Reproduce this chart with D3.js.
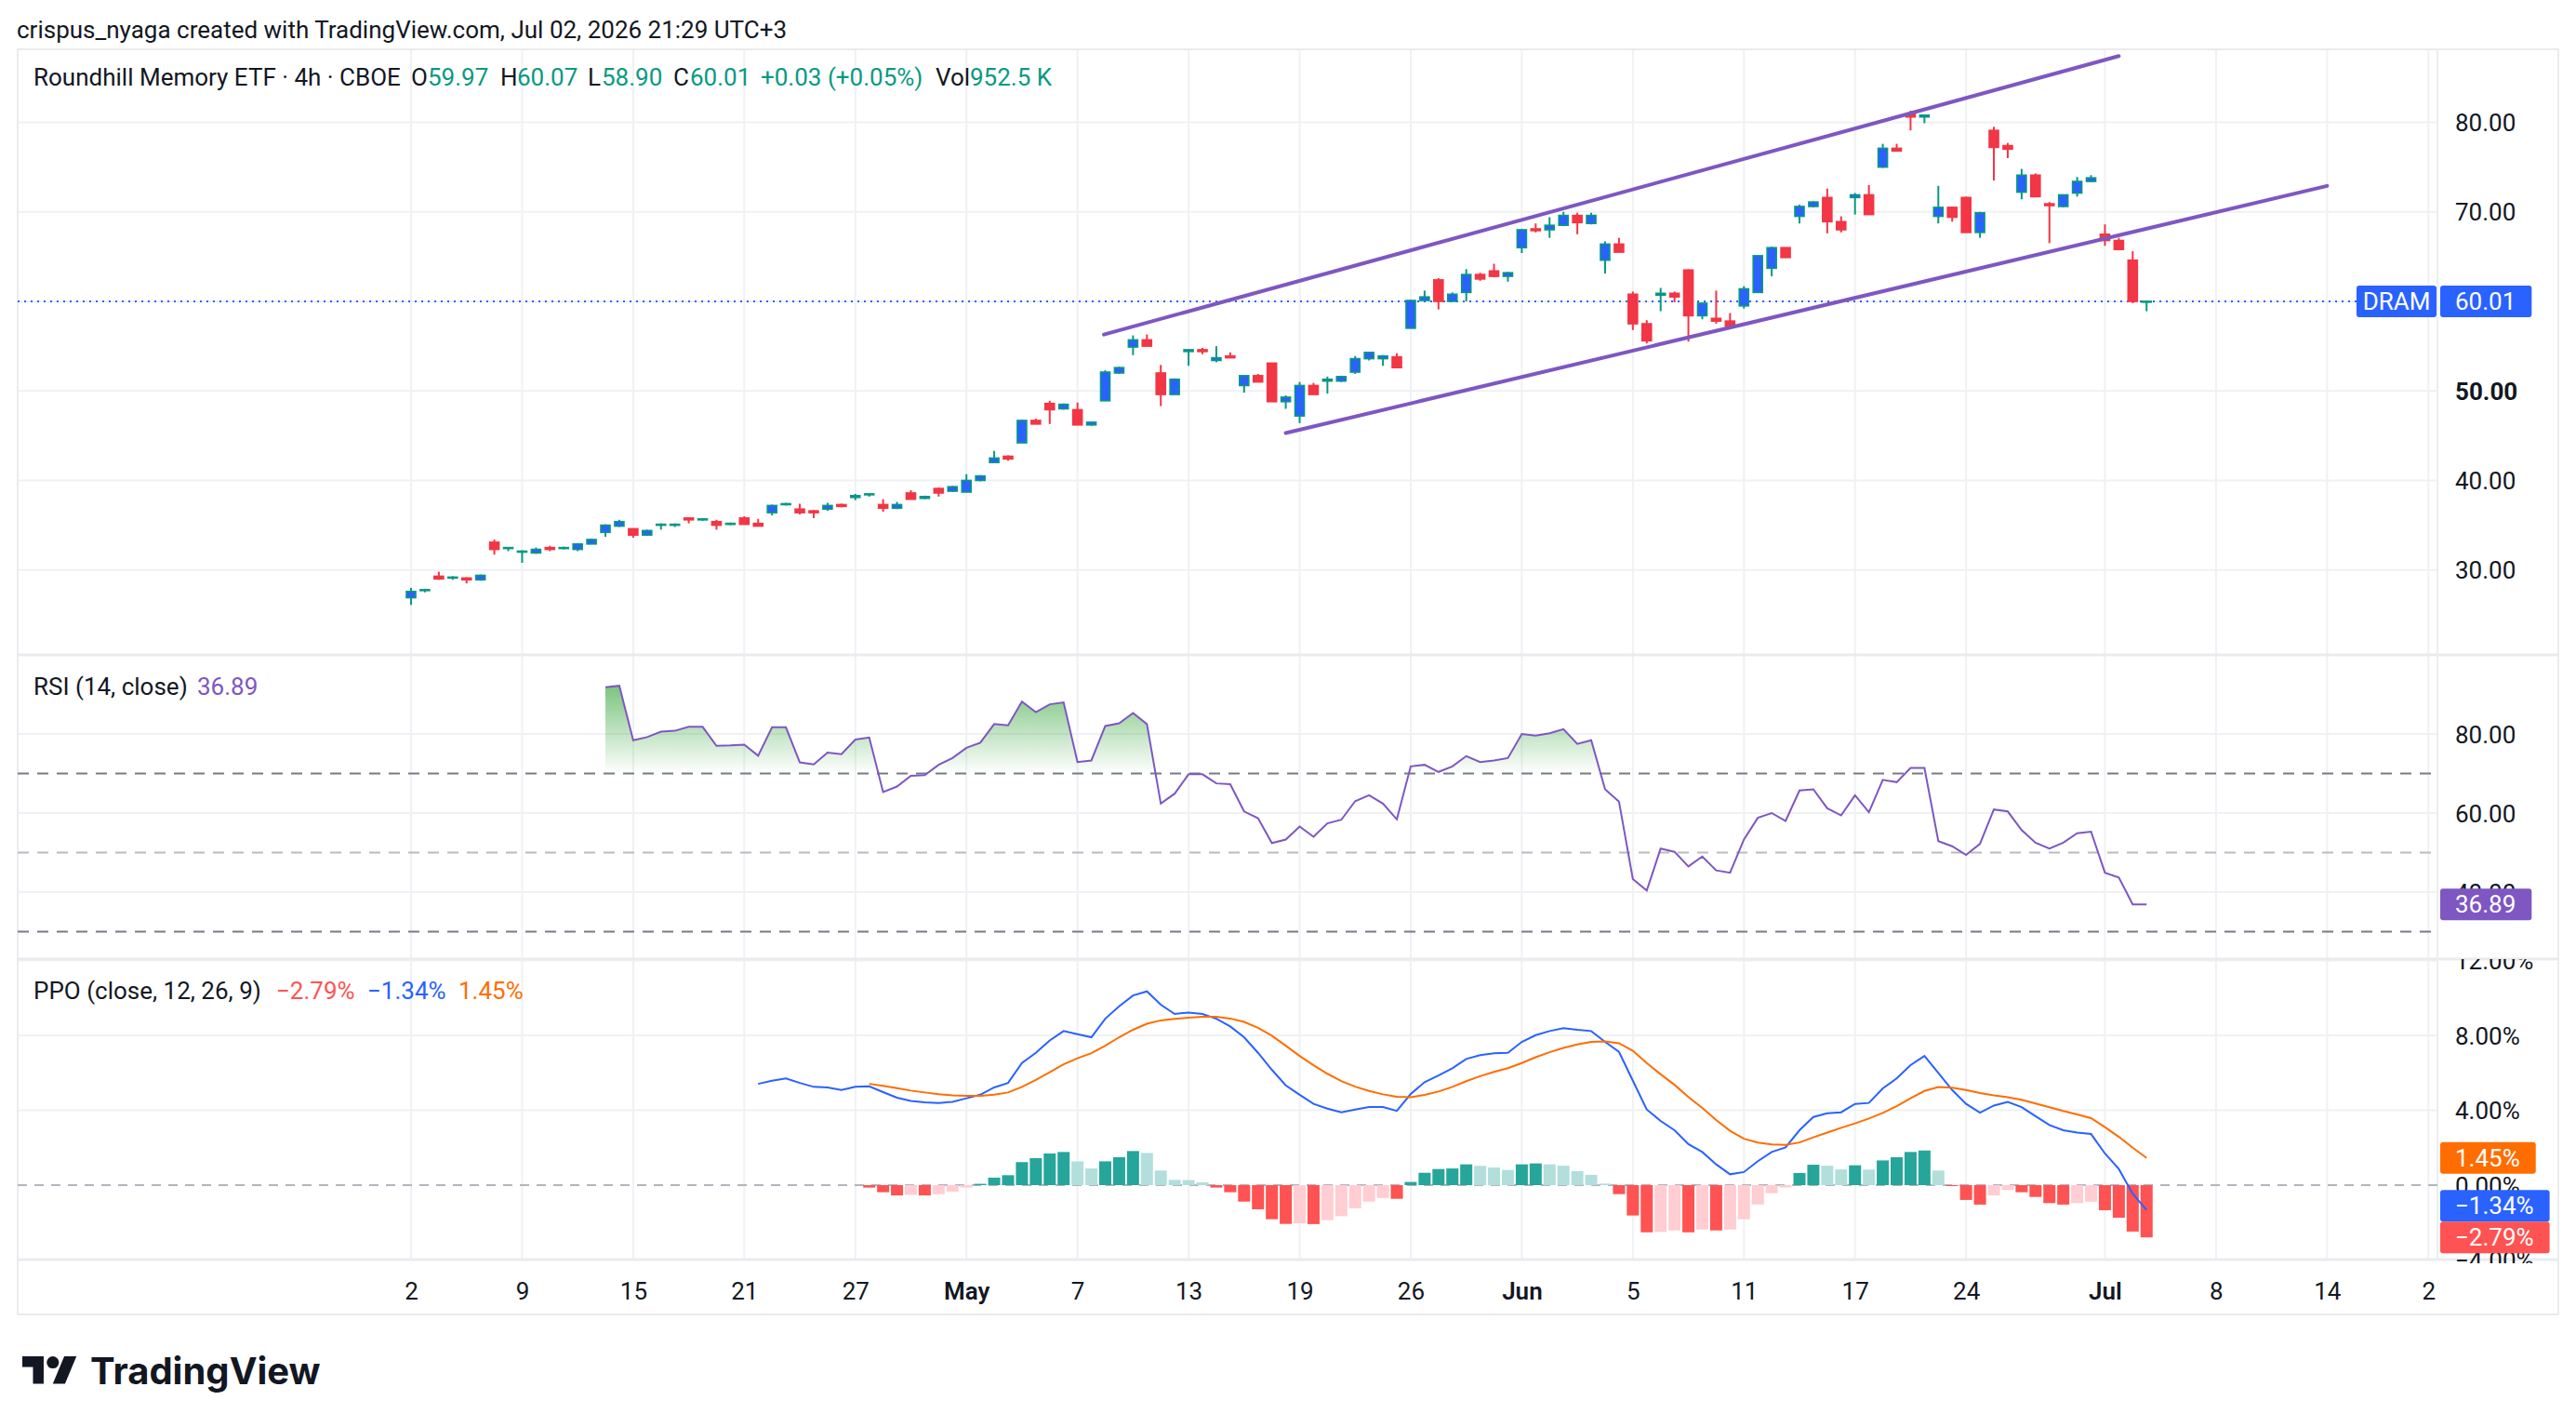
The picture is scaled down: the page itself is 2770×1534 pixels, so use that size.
<!DOCTYPE html>
<html>
<head>
<meta charset="utf-8">
<script src="https://cdn.jsdelivr.net/npm/d3@7"></script>
<style>
  body { margin: 0; background: #fff; }
  svg text { font-family: Roboto, "Noto Sans", sans-serif; }
</style>
</head>
<body>
<script>
// ---- data (4h bars, Apr 2 -> Jul 2) ----
const opens = [26.9,27.7,29.3,29.1,29.1,28.9,33.1,32.4,32.0,31.9,
  32.5,32.4,32.3,32.9,34.2,34.9,34.6,33.9,35.0,35.0,
  35.8,35.6,35.4,35.1,35.8,35.2,36.4,37.3,36.8,36.6,
  36.8,37.3,38.1,38.4,37.3,36.9,38.6,38.0,39.1,38.8,
  38.7,40.0,42.0,42.7,44.2,46.7,48.6,48.0,47.9,46.2,
  48.9,52.0,54.9,55.7,52.0,49.6,54.4,54.6,53.4,53.9,
  50.6,51.7,53.1,48.8,47.2,50.6,51.1,51.1,52.1,53.6,
  53.6,53.8,57.0,60.1,62.4,60.0,61.0,63.0,63.4,62.8,
  66.0,68.1,68.0,68.5,69.6,68.7,64.6,66.4,60.8,57.5,
  60.7,60.9,63.5,58.4,58.1,57.8,59.5,61.0,63.7,66.0,
  69.5,70.6,71.6,68.9,71.6,71.9,75.0,77.1,80.9,80.6,
  69.5,70.5,71.6,67.7,79.1,77.4,72.2,74.1,70.9,70.6,
  72.1,73.4,67.5,66.8,64.6,59.97]
const highs = [28.0,27.9,29.8,29.3,29.2,29.5,33.4,32.5,32.2,32.5,
  32.7,32.6,33.0,33.5,35.1,35.6,34.6,34.5,35.2,35.2,
  35.9,35.8,35.6,35.3,36.0,35.7,37.3,37.5,37.4,36.7,
  37.5,37.4,38.5,38.6,37.9,37.6,38.9,38.3,39.2,39.4,
  40.7,40.6,43.3,42.8,46.8,46.9,48.9,48.6,48.7,46.5,
  52.3,52.7,56.2,56.3,52.9,51.4,54.6,54.8,55.0,54.3,
  51.7,51.9,53.1,49.5,51.0,50.9,51.6,51.7,53.9,54.3,
  54.0,54.2,60.2,61.2,62.6,61.0,63.6,63.2,64.2,63.3,
  68.1,68.7,69.4,70.0,69.9,69.9,66.7,67.1,61.1,57.9,
  61.5,61.1,63.6,59.8,61.2,58.7,61.7,65.1,66.1,66.0,
  70.8,71.2,72.6,69.5,72.1,73.0,77.6,77.6,81.3,80.8,
  72.9,70.6,71.7,70.0,79.5,77.7,74.8,74.3,71.1,71.9,
  73.9,74.1,68.6,67.1,65.6,60.07]
const lows = [26.1,27.5,28.9,28.9,28.5,28.8,31.7,32.1,30.8,31.8,
  32.1,32.3,32.1,32.9,33.7,34.8,33.6,33.8,34.5,34.8,
  35.2,35.5,34.5,35.0,35.1,34.9,36.1,37.2,36.2,35.8,
  36.6,37.0,37.8,38.2,36.5,36.8,37.9,37.9,38.2,38.7,
  38.7,39.9,42.0,42.2,44.2,46.3,46.3,47.9,46.2,46.1,
  48.9,51.9,54.0,55.0,48.3,49.6,52.8,54.1,53.2,53.7,
  49.8,51.0,48.8,48.0,46.4,49.6,49.7,51.0,51.9,53.4,
  52.8,52.6,57.0,60.0,59.1,60.0,60.0,62.3,62.7,62.2,
  65.4,67.7,67.1,68.4,67.5,68.6,63.1,65.5,56.8,55.3,
  58.9,59.9,55.5,58.0,57.5,57.2,59.2,61.0,62.8,64.9,
  68.7,70.5,67.6,67.7,69.7,69.7,74.9,76.8,79.1,79.9,
  68.7,68.9,67.7,67.1,73.5,76.0,71.4,71.7,66.5,70.5,
  71.7,73.3,66.2,65.8,59.8,58.90]
const closes = [27.6,27.8,29.0,29.2,28.9,29.4,32.3,32.5,32.1,32.3,
  32.3,32.5,32.9,33.4,35.0,35.4,33.9,34.4,35.1,35.1,
  35.6,35.7,35.0,35.2,35.1,34.9,37.2,37.4,36.4,36.4,
  37.2,37.1,38.3,38.5,36.9,37.3,37.9,38.2,38.6,39.3,
  40.0,40.5,42.5,42.4,46.7,46.3,47.9,48.5,46.2,46.5,
  52.1,52.6,55.7,55.0,49.6,51.3,54.6,54.4,53.7,53.7,
  51.7,51.0,48.8,49.3,50.6,49.6,51.3,51.6,53.6,54.3,
  53.9,52.6,60.1,60.5,60.0,60.8,63.0,62.5,62.8,63.2,
  68.0,67.9,68.5,69.6,68.8,69.6,66.4,65.5,57.5,55.6,
  60.9,60.5,58.4,59.8,57.8,57.2,61.4,65.1,66.0,64.9,
  70.6,71.1,68.9,68.0,71.9,69.7,77.1,76.8,80.6,80.8,
  70.5,69.4,67.7,69.9,77.2,77.0,74.1,71.7,70.7,71.9,
  73.4,73.8,66.8,65.8,60.0,60.01]

const rsi = [null,null,null,null,null,null,null,null,null,null,null,null,null,null,
  91.8,92.2,78.4,79.2,80.6,80.8,81.8,81.8,77.0,77.1,
  77.3,74.5,81.7,81.7,72.8,72.3,75.3,74.9,78.6,79.1,
  65.3,66.7,69.4,69.6,72.2,73.9,76.5,77.8,82.5,82.2,
  88.2,85.5,87.5,88.0,72.9,73.3,82.0,82.7,85.3,82.5,
  62.4,64.9,69.8,69.8,67.5,67.3,60.4,58.7,52.4,53.3,
  56.6,54.0,57.4,58.3,63.0,64.5,62.4,58.4,71.8,72.2,
  70.4,71.8,74.4,72.9,73.3,73.9,80.0,79.6,80.2,81.2,
  77.5,78.4,66.0,62.9,43.3,40.4,51.0,50.2,46.5,49.0,
  45.5,44.9,53.3,58.8,60.0,58.0,65.7,66.0,61.2,59.4,
  64.5,60.2,68.4,67.8,71.4,71.4,52.9,51.6,49.4,52.2,
  60.9,60.4,55.7,52.5,51.0,52.5,54.9,55.3,44.9,43.7,
  36.9,36.89]

const ppo = [null,null,null,null,null,null,null,null,null,null,
  null,null,null,null,null,null,null,null,null,null,null,null,null,null,null,
  5.41,5.58,5.70,5.46,5.25,5.22,5.08,5.25,5.28,4.97,
  4.67,4.50,4.42,4.39,4.45,4.64,4.83,5.22,5.46,6.52,
  7.07,7.73,8.23,8.06,7.90,8.89,9.55,10.13,10.35,9.64,
  9.14,9.22,9.14,8.89,8.48,7.90,7.07,6.16,5.33,4.83,
  4.34,4.09,3.89,4.04,4.17,4.17,3.97,4.87,5.50,5.86,
  6.24,6.74,6.94,7.04,7.07,7.65,8.01,8.23,8.39,8.30,
  8.23,7.65,7.12,5.58,4.04,3.43,2.93,2.19,1.77,1.11,
  0.58,0.70,1.28,1.77,2.02,2.93,3.64,3.84,3.89,4.34,
  4.39,5.17,5.70,6.41,6.90,5.99,5.08,4.34,3.87,4.25,
  4.45,4.17,3.68,3.21,2.93,2.81,2.73,1.69,0.86,-0.46,
  -1.34]

const signal = [null,null,null,null,null,null,null,null,null,null,
  null,null,null,null,null,null,null,null,null,null,
  null,null,null,null,null,null,null,null,null,null,null,null,null,
  5.41,5.30,5.18,5.05,4.95,4.86,4.80,4.77,4.77,4.83,
  4.95,5.25,5.62,6.03,6.45,6.78,7.05,7.45,7.90,8.30,
  8.62,8.80,8.88,8.95,8.99,8.99,8.90,8.72,8.40,7.98,
  7.45,6.90,6.40,5.95,5.56,5.26,5.03,4.85,4.72,4.70,
  4.82,5.00,5.25,5.55,5.82,6.05,6.25,6.52,6.83,7.10,
  7.33,7.52,7.65,7.68,7.58,7.18,6.52,5.92,5.36,4.71,
  4.12,3.48,2.90,2.48,2.27,2.17,2.15,2.28,2.55,2.81,
  3.06,3.30,3.56,3.86,4.22,4.64,5.03,5.24,5.20,5.08,
  4.92,4.80,4.70,4.56,4.36,4.16,3.96,3.78,3.58,3.10,
  2.58,2.00,1.45]

const hist = [null,null,null,null,null,null,null,null,null,null,
  null,null,null,null,null,null,null,null,null,null,
  null,null,null,null,null,null,null,null,null,null,null,null,null,
  -0.13,-0.38,-0.55,-0.52,-0.55,-0.48,-0.35,-0.13,0.07,0.40,
  0.53,1.23,1.44,1.69,1.77,1.27,0.89,1.27,1.49,1.82,
  1.72,0.78,0.28,0.27,0.15,-0.13,-0.38,-0.88,-1.29,-1.82,
  -2.07,-2.04,-2.08,-1.87,-1.66,-1.24,-0.88,-0.69,-0.73,0.17,
  0.66,0.86,0.89,1.11,1.03,0.94,0.81,1.11,1.16,1.11,
  1.04,0.75,0.55,0.08,-0.48,-1.62,-2.52,-2.50,-2.42,-2.52,
  -2.37,-2.42,-2.37,-1.82,-1.03,-0.43,-0.13,0.65,1.09,1.04,
  0.84,1.06,0.83,1.32,1.49,1.77,1.85,0.78,-0.05,-0.79,
  -1.04,-0.55,-0.26,-0.38,-0.63,-0.96,-1.04,-0.96,-0.88,-1.34,
  -1.74,-2.48,-2.79]

// trend lines drawn on the chart: [bar index, price]
const upperLine = [[49.9, 56.3], [123.0, 87.4]]
const lowerLine = [[63.0, 45.3], [138.0, 72.9]]

// axis ticks
const tickLabels = ["2","9","15","21","27","May","7","13","19","26","Jun","5","11","17","24","Jul","8","14","2"]
const tickBars = [0,8,16,24,32,40,48,56,64,72,80,88,96,104,112,122,130,138,145.3]
const priceTicks = [30,40,50,60,70,80]
const rsiTicks = [40,60,80]
const ppoTicks = [-4,0,4,8,12]

// ---- layout ----
const W = 2770, H = 1534
const plotL = 19, plotR = 2621, frameR = 2751
const mainTop = 53, mainBot = 704, rsiBot = 1031, ppoBot = 1354, axisBot = 1413
const step = 14.93
const fs = 26
const ink = "#131722", up = "#089981", upFill = "#2962FF", down = "#F23645"

const svg = d3.select("body").append("svg")
    .attr("width", W)
    .attr("height", H)

svg.append("rect").attr("width", W).attr("height", H).attr("fill", "#fff")

const bars = d3.range(opens.length)
const x = d3.scaleLinear().domain([0, 125]).range([442, 442 + 125 * step])
const yP = d3.scaleLinear().domain([30, 80]).range([612.7, 131.5])
const yR = d3.scaleLinear().domain([40, 80]).range([959, 789])
const yM = d3.scaleLinear().domain([0, 8]).range([1274, 1113])

const defs = svg.append("defs")
function clip(id, x0, y0, w, h) {
    defs.append("clipPath").attr("id", id)
        .append("rect").attr("x", x0).attr("y", y0).attr("width", w).attr("height", h)
}
clip("cMain", plotL, mainTop, plotR - plotL, mainBot - mainTop)
clip("cRsi", plotL, mainBot, plotR - plotL, rsiBot - mainBot)
clip("cPpo", plotL, rsiBot, plotR - plotL, ppoBot - rsiBot)
clip("aMain", plotR, mainTop, 140, mainBot - mainTop)
clip("aRsi", plotR, mainBot, 140, rsiBot - mainBot)
clip("aPpo", plotR, rsiBot, 140, ppoBot - rsiBot + 4)
clip("cOb", plotL, mainBot, plotR - plotL, yR(70) - mainBot)

// ---- grid ----
const grid = svg.append("g").attr("stroke", "#f0f1f4").attr("stroke-width", 2)
grid.selectAll(".vg").data(tickBars).join("line")
    .attr("x1", d => x(d)).attr("x2", d => x(d))
    .attr("y1", mainTop).attr("y2", ppoBot)
const hGrid = [[yP, priceTicks, "cMain"], [yR, rsiTicks, "cRsi"], [yM, ppoTicks.filter(d => d != 0), "cPpo"]]
hGrid.forEach(([s, ticks, c]) => {
    grid.append("g").attr("clip-path", `url(#${c})`)
        .selectAll("line").data(ticks).join("line")
        .attr("x1", plotL).attr("x2", plotR)
        .attr("y1", d => s(d)).attr("y2", d => s(d))
})

// frame and pane separators
svg.append("rect")
    .attr("x", plotL).attr("y", mainTop)
    .attr("width", frameR - plotL).attr("height", axisBot - mainTop)
    .attr("fill", "none").attr("stroke", "#e9ebee").attr("stroke-width", 2)
svg.append("g").selectAll("line").data([mainBot, rsiBot, ppoBot]).join("line")
    .attr("x1", plotL).attr("x2", frameR)
    .attr("y1", d => d).attr("y2", d => d)
    .attr("stroke", "#e9ebee").attr("stroke-width", 3)
svg.append("line")
    .attr("x1", plotR).attr("x2", plotR).attr("y1", mainTop).attr("y2", ppoBot)
    .attr("stroke", "#eceef1").attr("stroke-width", 2)

// ---- main pane: candles ----
const main = svg.append("g").attr("clip-path", "url(#cMain)")

// last price line
main.append("line")
    .attr("x1", plotL).attr("x2", 2534)
    .attr("y1", yP(closes[125])).attr("y2", yP(closes[125]))
    .attr("stroke", "#2962FF").attr("stroke-width", 2).attr("stroke-dasharray", "2,5")

const candle = main.selectAll(".candle").data(bars).join("g")
candle.append("line")
    .attr("x1", i => x(i)).attr("x2", i => x(i))
    .attr("y1", i => yP(highs[i])).attr("y2", i => yP(lows[i]))
    .attr("stroke", i => closes[i] >= opens[i] ? up : down)
    .attr("stroke-width", 2)
candle.append("rect")
    .attr("x", i => x(i) - 5)
    .attr("width", 10)
    .attr("y", i => yP(Math.max(opens[i], closes[i])))
    .attr("height", i => Math.max(1, Math.abs(yP(opens[i]) - yP(closes[i]))))
    .attr("fill", i => closes[i] >= opens[i] ? upFill : down)
    .attr("stroke", i => closes[i] >= opens[i] ? up : down)
    .attr("stroke-width", 1.6)

// trend lines
const trend = d3.line().x(d => x(d[0])).y(d => yP(d[1]))
main.selectAll(".trend").data([upperLine, lowerLine]).join("path")
    .attr("d", trend)
    .attr("fill", "none")
    .attr("stroke", "#7E57C2")
    .attr("stroke-width", 4)
    .attr("stroke-linecap", "round")

// ---- RSI pane ----
const rp = svg.append("g").attr("clip-path", "url(#cRsi)")
const grad = defs.append("linearGradient").attr("id", "obGrad")
    .attr("gradientUnits", "userSpaceOnUse")
    .attr("x1", 0).attr("x2", 0).attr("y1", yR(100)).attr("y2", yR(70))
grad.append("stop").attr("offset", 0).attr("stop-color", "#4CAF50").attr("stop-opacity", 1)
grad.append("stop").attr("offset", 1).attr("stop-color", "#4CAF50").attr("stop-opacity", 0)

rp.selectAll(".lvl").data([70, 50, 30]).join("line")
    .attr("x1", plotL).attr("x2", plotR)
    .attr("y1", d => yR(d)).attr("y2", d => yR(d))
    .attr("stroke", d => d == 50 ? "#b9bbc2" : "#787B86")
    .attr("stroke-width", 2)
    .attr("stroke-dasharray", "12,9")

rp.append("path")
    .datum(bars)
    .attr("clip-path", "url(#cOb)")
    .attr("fill", "url(#obGrad)")
    .attr("d", d3.area().defined(i => rsi[i] != null)
        .x(i => x(i)).y0(yR(70)).y1(i => yR(rsi[i])))

rp.append("path")
    .datum(bars)
    .attr("fill", "none")
    .attr("stroke", "#7E57C2")
    .attr("stroke-width", 2)
    .attr("d", d3.line().defined(i => rsi[i] != null).x(i => x(i)).y(i => yR(rsi[i])))

// ---- PPO pane ----
const pp = svg.append("g").attr("clip-path", "url(#cPpo)")
pp.append("line")
    .attr("x1", plotL).attr("x2", plotR)
    .attr("y1", yM(0)).attr("y2", yM(0))
    .attr("stroke", "#b2b5be").attr("stroke-width", 2)
    .attr("stroke-dasharray", "10,8")

function histColor(i) {
    const h = hist[i], prev = hist[i - 1]
    if (h >= 0) return prev != null && prev < h ? "#26A69A" : "#B2DFDB"
    return prev != null && prev < h ? "#FFCDD2" : "#FF5252"
}
pp.selectAll(".hb").data(bars.filter(i => hist[i] != null)).join("rect")
    .attr("x", i => x(i) - 6.5)
    .attr("width", 13)
    .attr("y", i => yM(Math.max(0, hist[i])))
    .attr("height", i => Math.abs(yM(hist[i]) - yM(0)))
    .attr("fill", histColor)

pp.append("path").datum(bars)
    .attr("fill", "none").attr("stroke", "#2962FF").attr("stroke-width", 2)
    .attr("d", d3.line().defined(i => ppo[i] != null).x(i => x(i)).y(i => yM(ppo[i])))
pp.append("path").datum(bars)
    .attr("fill", "none").attr("stroke", "#FF6D00").attr("stroke-width", 2)
    .attr("d", d3.line().defined(i => signal[i] != null).x(i => x(i)).y(i => yM(signal[i])))

// ---- right axes ----
function rightAxis(scale, ticks, fmt, clipId) {
    const g = svg.append("g")
        .attr("clip-path", `url(#${clipId})`)
        .append("g")
        .attr("transform", `translate(${plotR},0)`)
        .call(d3.axisRight(scale).tickValues(ticks).tickSize(0).tickPadding(19).tickFormat(fmt))
    g.select(".domain").remove()
    g.selectAll("text").attr("font-size", fs).attr("fill", ink).attr("dy", "0.35em")
        .style("font-family", "Roboto, sans-serif")
    return g
}
const pAxis = rightAxis(yP, priceTicks, d3.format(".2f"), "aMain")
pAxis.selectAll("text").filter(d => d == 50).attr("font-weight", 700)
rightAxis(yR, rsiTicks, d3.format(".2f"), "aRsi")
rightAxis(yM, ppoTicks, d => d3.format(".2f")(d).replace("-", "\u2212") + "%", "aPpo")

// ---- time axis ----
const tAxis = svg.append("g")
    .attr("transform", "translate(0,1388)")
    .call(d3.axisBottom(x).tickValues(tickBars).tickSize(0).tickPadding(0)
        .tickFormat((d, i) => tickLabels[i]))
tAxis.select(".domain").remove()
tAxis.selectAll("text")
    .attr("y", 0).attr("dy", "0.35em")
    .attr("font-size", fs).attr("fill", ink)
    .attr("font-weight", (d, i) => isNaN(+tickLabels[i]) ? 600 : 400)

// ---- value tags on the axis ----
function tag(yc, label, fill) {
    const g = svg.append("g")
    const r = g.append("rect").attr("x", plotR + 3).attr("y", yc - 17).attr("height", 34)
        .attr("rx", 3).attr("fill", fill)
    const t = g.append("text").attr("x", plotR + 19).attr("y", yc).attr("dy", "0.35em")
        .attr("font-size", fs).attr("fill", "#fff").text(label)
    r.attr("width", t.node().getComputedTextLength() + 33)
}
// DRAM name + last price
const lastY = yP(closes[125])
svg.append("rect").attr("x", 2534).attr("y", lastY - 17).attr("width", 86).attr("height", 34)
    .attr("rx", 3).attr("fill", "#2962FF")
svg.append("text").attr("x", 2577).attr("y", lastY).attr("dy", "0.35em")
    .attr("text-anchor", "middle").attr("font-size", fs).attr("fill", "#fff").text("DRAM")
tag(lastY, d3.format(".2f")(closes[125]), "#2962FF")
tag(yR(rsi[125]), d3.format(".2f")(rsi[125]), "#7E57C2")
tag(yM(signal[125]), "1.45%", "#FF6D00")
// the histogram tag sits on its value, the PPO tag is pushed up above it
const histY = yM(hist[125])
tag(Math.min(yM(ppo[125]), histY - 34), "\u22121.34%", "#2962FF")
tag(histY, "\u22122.79%", "#FF5252")

// ---- legends ----
function legend(y, parts) {
    const t = svg.append("text").attr("y", y).attr("dy", "0.35em").attr("font-size", fs)
    parts.forEach(([px, s, c]) => t.append("tspan").attr("x", px).attr("fill", c || ink).text(s))
}
legend(32, [[18, "crispus_nyaga created with TradingView.com, Jul 02, 2026 21:29 UTC+3"]])
legend(83, [[36, "Roundhill Memory ETF · 4h · CBOE"],
    [442, "O"], [460, "59.97", up], [538, "H"], [556, "60.07", up],
    [632, "L"], [647, "58.90", up], [724, "C"], [742, "60.01", up],
    [818, "+0.03 (+0.05%)", up], [1006, "Vol"], [1043, "952.5 K", up]])
legend(738, [[36, "RSI (14, close)"], [212, "36.89", "#7E57C2"]])
legend(1065, [[36, "PPO (close, 12, 26, 9)"], [297, "\u22122.79%", "#FF5252"],
    [395, "\u22121.34%", "#2962FF"], [493, "1.45%", "#FF6D00"]])

// ---- TradingView logo ----
const logo = svg.append("g").attr("transform", "translate(24,1451.4) scale(1.64)").attr("fill", ink)
logo.append("path").attr("d", "M14 22H7V11H0V4h14v18zM28 22h-8l7.5-18h8L28 22z")
logo.append("circle").attr("cx", 20).attr("cy", 8).attr("r", 4)
svg.append("text").attr("x", 97).attr("y", 1487.5)
    .attr("font-size", 40).attr("font-weight", 700).attr("fill", ink)
    .style("font-family", "Inter, Roboto, sans-serif")
    .text("TradingView")
</script>
</body>
</html>
